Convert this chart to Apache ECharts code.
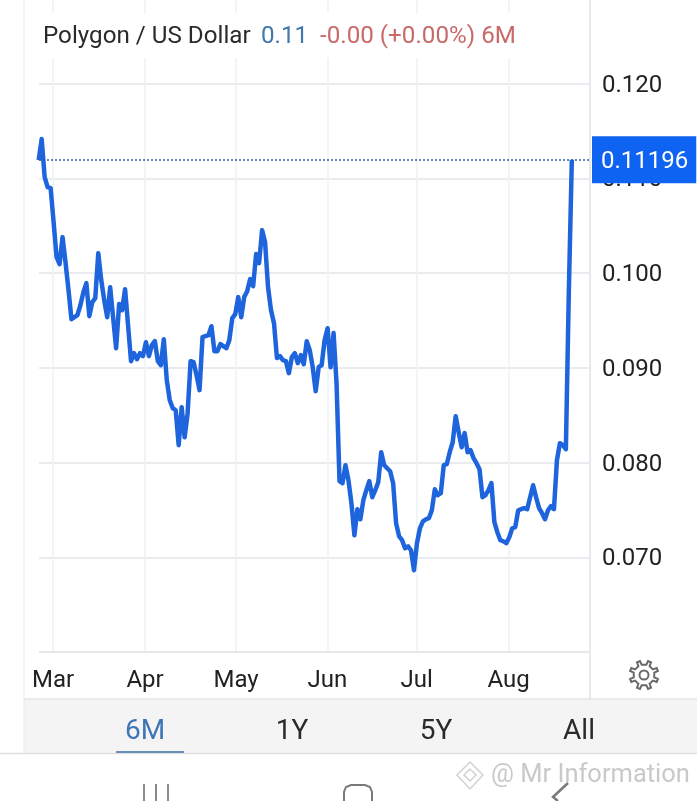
<!DOCTYPE html>
<html><head><meta charset="utf-8">
<style>html,body{margin:0;padding:0;background:#fff}#c{width:697px;height:801px}</style>
<script src="https://cdn.jsdelivr.net/npm/echarts@6/dist/echarts.min.js"></script>
</head><body><div id="c"></div>
<script>
const prices=[.11192,.11414,.11013,.10907,.10897,.10538,.10168,.10094,.10379,.10115,
.09820,.09513,.09534,.09556,.09661,.09798,.09894,.09545,.09693,.09735,
.10210,.09925,.09714,.09534,.09851,.09524,.09207,.09672,.09608,.09830,
.09450,.09070,.09154,.09091,.09154,.09123,.09270,.09123,.09239,.09281,
.09070,.09028,.09302,.08869,.08658,.08574,.08552,.08183,.08584,.08267,
.08521,.09070,.09059,.08922,.08764,.09323,.09334,.09344,.09439,.09175,
.09175,.09249,.09228,.09207,.09292,.09524,.09566,.09746,.09534,.09746,
.09809,.09936,.09862,.10200,.10105,.10453,.10326,.09851,.09608,.09471,
.09102,.09123,.09080,.09070,.08943,.09112,.09154,.09049,.09133,.09038,
.09281,.09186,.09006,.08753,.09006,.09028,.09292,.09418,.09006,.09366,
.08838,.07803,.07782,.07972,.07813,.07570,.07232,.07507,.07401,.07602,
.07708,.07803,.07634,.07708,.07792,.08109,.07972,.07940,.07908,.07782,
.07359,.07222,.07180,.07095,.07116,.07074,.06863,.07148,.07306,.07380,
.07401,.07412,.07496,.07718,.07655,.07676,.07972,.07982,.08109,.08214,
.08489,.08320,.08162,.08310,.08109,.08130,.08046,.07993,.07929,.07634,
.07655,.07708,.07782,.07370,.07264,.07180,.07169,.07148,.07211,.07306,
.07317,.07496,.07507,.07518,.07507,.07634,.07760,.07634,.07518,.07465,
.07401,.07496,.07539,.07507,.08024,.08204,.08183,.08141,.09820,.11196];
const monthNames=['Mar','Apr','May','Jun','Jul','Aug'];
const monthTicks=[4.8,35.7,66.25,96.9,126.9,157.8];
const lastPrice=0.11196;
const headerName='Polygon / US Dollar';
const headerPrice='0.11';
const headerChange='-0.00 (+0.00%) 6M';
const ranges=['6M','1Y','5Y','All'];

const FONT='Roboto';
const GRID='#e9ecef';
const VGRID='#eef2f6';
const BLUE='#1e64dc';
const line=(x1,y1,x2,y2,stroke,w)=>({type:'line',z:6,shape:{x1,y1,x2,y2},style:{stroke,lineWidth:w||1.5,fill:null}});
const txt=(x,y,text,fill,size,align)=>({type:'text',z:7,x,y,style:{text,fill,font:(size||24.2)+'px '+FONT,textAlign:align||'left',textVerticalAlign:'middle'}});
const rangeX=[145,292,436,579];
const gearPts=[];
for(let k=0;k<8;k++){
  const a=k*Math.PI/4-Math.PI/8;
  [[-.17,10.5],[-.11,14.5],[.11,14.5],[.17,10.5]].forEach(p=>{
    gearPts.push([644+p[1]*Math.cos(a+p[0]),675+p[1]*Math.sin(a+p[0])]);
  });
}
const chart=echarts.init(document.getElementById('c'),null,{renderer:'canvas'});
chart.setOption({
  animation:false,backgroundColor:'#fff',
  grid:{left:39,right:107,top:0,bottom:149,containLabel:false},
  xAxis:{type:'value',min:0.1,max:185.1,
    axisLine:{show:false},axisTick:{show:false,customValues:monthTicks},
    axisLabel:{customValues:monthTicks,color:'#222',fontFamily:FONT,fontSize:24,margin:17,
      formatter:v=>monthNames[monthTicks.indexOf(v)]},
    splitLine:{show:true,lineStyle:{color:VGRID,width:1.5}}},
  yAxis:{type:'value',position:'right',min:0.06,max:0.12882,interval:0.01,
    axisLine:{show:false},axisTick:{show:false},
    axisLabel:{color:'#222',fontFamily:FONT,fontSize:24,margin:12,showMinLabel:false,showMaxLabel:false,
      formatter:v=>'{t|'+v.toFixed(3)+'}',
      rich:{t:{color:'#222',fontFamily:FONT,fontSize:24,padding:[4,0,0,0]}}},
    splitLine:{show:true,showMinLine:false,showMaxLine:false,lineStyle:{color:GRID,width:2}}},
  series:[{type:'line',data:prices.map((v,i)=>[i,v]),symbol:'none',smooth:false,
    lineStyle:{color:BLUE,width:4.5,join:'round'},
    markLine:{silent:true,symbol:'none',animation:false,
      lineStyle:{color:'#2a5f9e',type:[2,2],width:1.5},
      label:{show:true,position:'end',distance:2,formatter:()=>'{t|'+lastPrice.toFixed(5)+'}',
        backgroundColor:'#0f63f2',padding:[9,8,9,9],
        rich:{t:{color:'#fff',fontFamily:FONT,fontSize:24,padding:[5,0,0,0]}}},
      data:[[{coord:[0.1,lastPrice]},{coord:[185.1,lastPrice]}]]}}],
  graphic:[
    {type:'rect',z:5,shape:{x:26,y:13,width:563,height:45},style:{fill:'#fff'}},
    line(24,0,24,753,'#eceff2'),
    line(590,0,590,699,'#e6eaee',2),
    line(39,652,590,652,'#e6e8ea',2),
    {type:'rect',z:5,shape:{x:24,y:699,width:673,height:54},style:{fill:'#f4f4f4'}},
    line(24,699,697,699,'#e6e6e6'),
    line(0,753.5,697,753.5,'#dedede'),
    line(116,752,184,752,'#3b6ea8',1.5),
    txt(43,37,headerName,'#2a2a2a'),
    txt(261,37,headerPrice,'#3f78ab'),
    txt(320,37,headerChange,'#c96a6a'),
    ...ranges.map((r,i)=>txt(rangeX[i],732,r,i===0?'#3f74b5':'#2a2a2a',28,'center')),
    {type:'polygon',z:7,shape:{points:gearPts},style:{fill:null,stroke:'#6a6a6a',lineWidth:2}},
    {type:'circle',z:7,shape:{cx:644,cy:675,r:4.5},style:{fill:null,stroke:'#6a6a6a',lineWidth:2}},
    {type:'polygon',z:7,shape:{points:[[470,762],[483,775],[470,789],[457,775]]},style:{fill:null,stroke:'#d2d2d2',lineWidth:1.5}},
    {type:'polygon',z:7,shape:{points:[[470,769],[476,775],[470,781],[464,775]]},style:{fill:null,stroke:'#d2d2d2',lineWidth:1.5}},
    txt(491,776,'@ Mr Information','#c9c9c9',25.5),
    line(144,784,144,801,'#8a8a8a',2),line(156,784,156,801,'#8a8a8a',2),line(168,784,168,801,'#8a8a8a',2),
    {type:'polyline',z:7,shape:{points:[[344,801],[344,792],[346,787],[351,785],[365,785],[370,787],[372,792],[372,801]]},style:{fill:null,stroke:'#7a7a7a',lineWidth:2}},
    {type:'polyline',z:7,shape:{points:[[568,783],[553,797],[558,801]]},style:{fill:null,stroke:'#7a7a7a',lineWidth:2.5}}
  ]
});
</script></body></html>
